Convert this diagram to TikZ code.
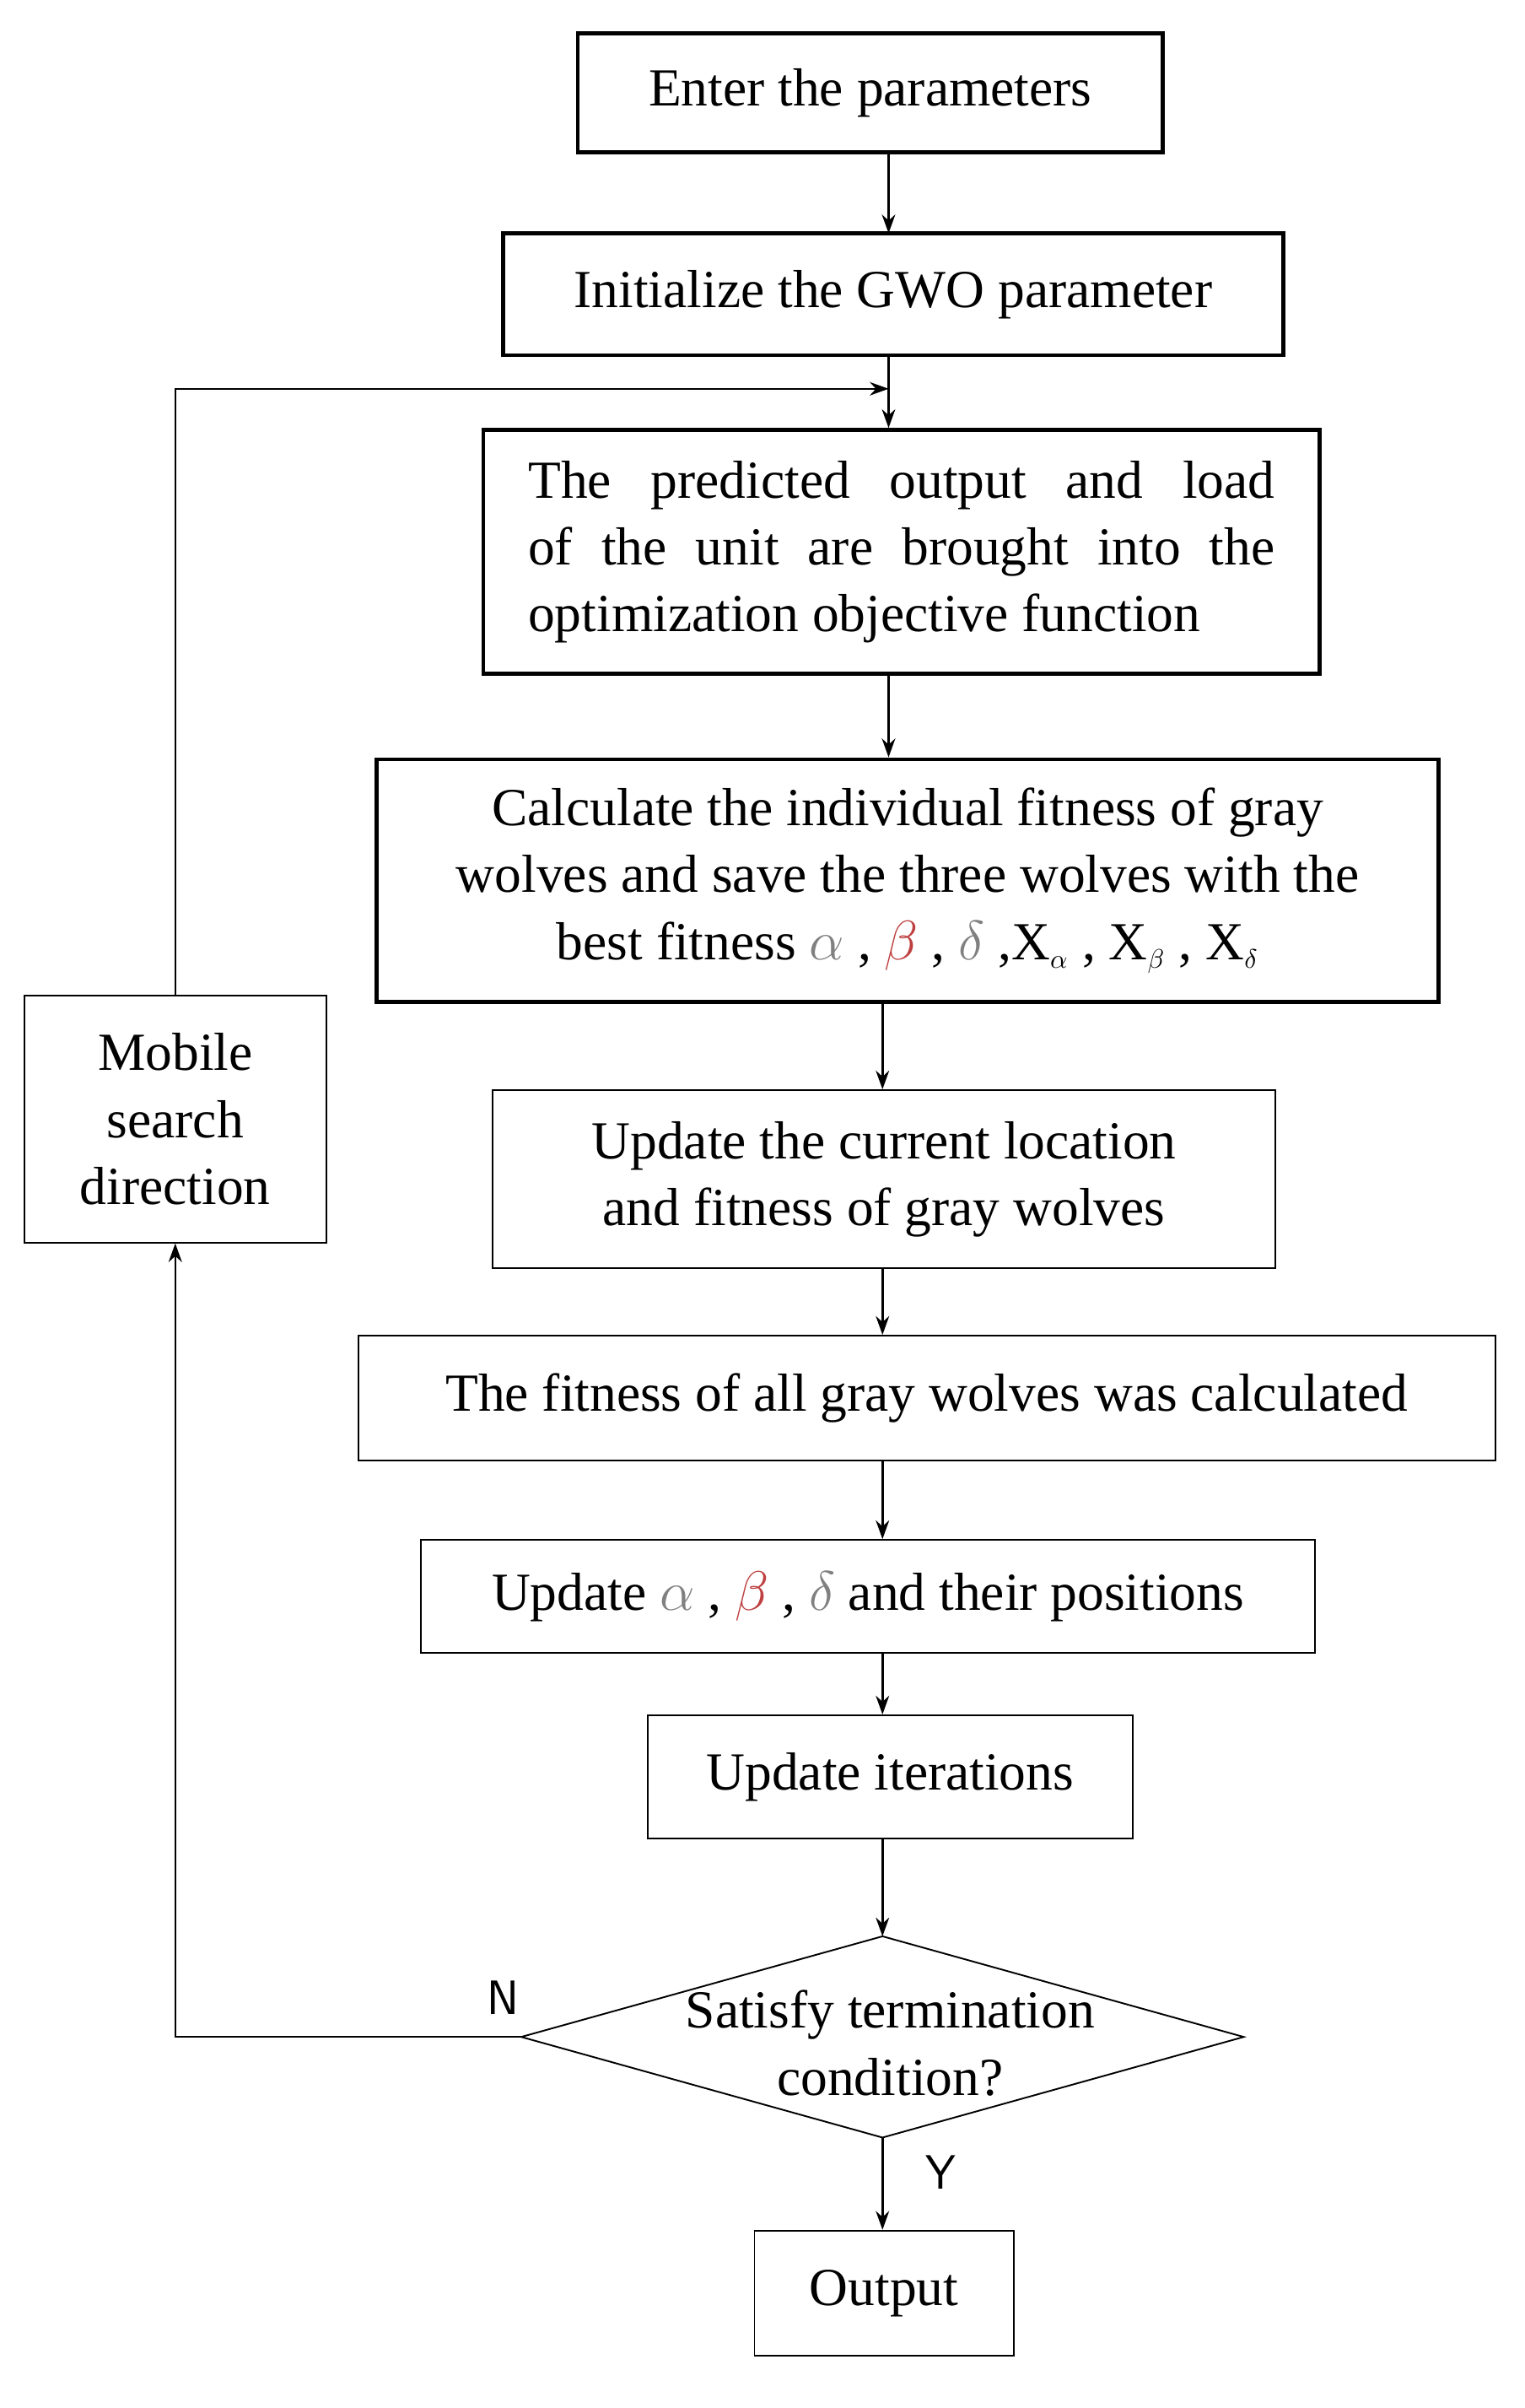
\documentclass[tikz,border=0pt]{standalone}
\usepackage{fontspec}
\setmainfont{Liberation Serif}
\usetikzlibrary{shapes.geometric,arrows.meta}
\begin{document}
\begin{tikzpicture}[x=0.02cm,y=-0.02cm,
  box/.style={draw,line width=0.6pt,inner sep=0pt,font=\fontsize{20}{25}\selectfont,align=center},
  tbox/.style={box,line width=1.5pt},
  arr/.style={-{Stealth[length=7pt,width=5pt]},line width=0.8pt}]
\useasboundingbox (0,0) rectangle (1000,1579.4);
\node[tbox,minimum width=7.68cm,minimum height=1.56cm] (b1) at (571,61) {Enter the parameters};
\node[tbox,minimum width=10.24cm,minimum height=1.6cm] (b2) at (586,193) {Initialize the GWO parameter};
\node[tbox,minimum width=10.98cm,minimum height=3.2cm,align=left] (b3) at (591.5,362) {\makebox[9.8cm][s]{The predicted output and load}\\\makebox[9.8cm][s]{of the unit are brought into the}\\optimization objective function};
\node[tbox,minimum width=13.94cm,minimum height=3.18cm] (b4) at (595.5,577.5) {Calculate the individual fitness of gray\\wolves and save the three wolves with the\\best fitness {\color{gray}$\alpha$} , {\color{red!50!gray}$\beta$} , {\color{gray}$\delta$} ,X$_{\scriptscriptstyle\alpha}$ , X$_{\scriptscriptstyle\beta}$ , X$_{\scriptscriptstyle\delta}$};
\node[box,minimum width=10.28cm,minimum height=2.34cm] (b5) at (580,773.5) {Update the current location\\and fitness of gray wolves};
\node[box,minimum width=14.92cm,minimum height=1.64cm] (b6) at (608,917) {The fitness of all gray wolves was calculated};
\node[box,minimum width=11.74cm,minimum height=1.48cm] (b7) at (569.5,1047) {Update {\color{gray}$\alpha$} , {\color{red!50!gray}$\beta$} , {\color{gray}$\delta$} and their positions};
\node[box,minimum width=6.36cm,minimum height=1.62cm] (b8) at (584,1165.5) {Update iterations};
\coordinate (dn) at (579,1270);
\coordinate (ds) at (579,1402);
\coordinate (dw) at (342,1336);
\coordinate (de) at (816,1336);
\draw[line width=0.6pt] (dn) -- (de) -- (ds) -- (dw) -- cycle;
\node[font=\fontsize{20}{25}\selectfont,align=center] (d) at (584,1340) {Satisfy termination\\condition?};
\node[box,minimum width=3.4cm,minimum height=1.64cm] (out) at (580,1504) {Output};
\node[box,minimum width=3.96cm,minimum height=3.24cm] (m) at (115,734) {Mobile\\search\\direction};
\coordinate (top) at (583,255);
\draw[arr] (b1.south -| 583,0) -- (583,153);
\draw[arr] (583,233) -- (b3.north -| 583,0);
\draw[arr] (583,442) -- (b4.north -| 583,0);
\draw[arr] (579,657) -- (b5.north -| 579,0);
\draw[arr] (579,832) -- (b6.north -| 579,0);
\draw[arr] (579,958) -- (b7.north -| 579,0);
\draw[arr] (579,1084) -- (b8.north -| 579,0);
\draw[arr] (579,1206) -- (dn);
\draw[arr] (ds) -- (out.north -| ds);
\draw[arr] (dw) -| (m.south);
\draw[arr] (m.north) |- (top);
\node[font=\fontsize{18}{20}\sffamily] (n) at (330,1310) {N};
\node[font=\fontsize{18}{20}\sffamily] (y) at (617,1425) {Y};
\end{tikzpicture}
\end{document}
